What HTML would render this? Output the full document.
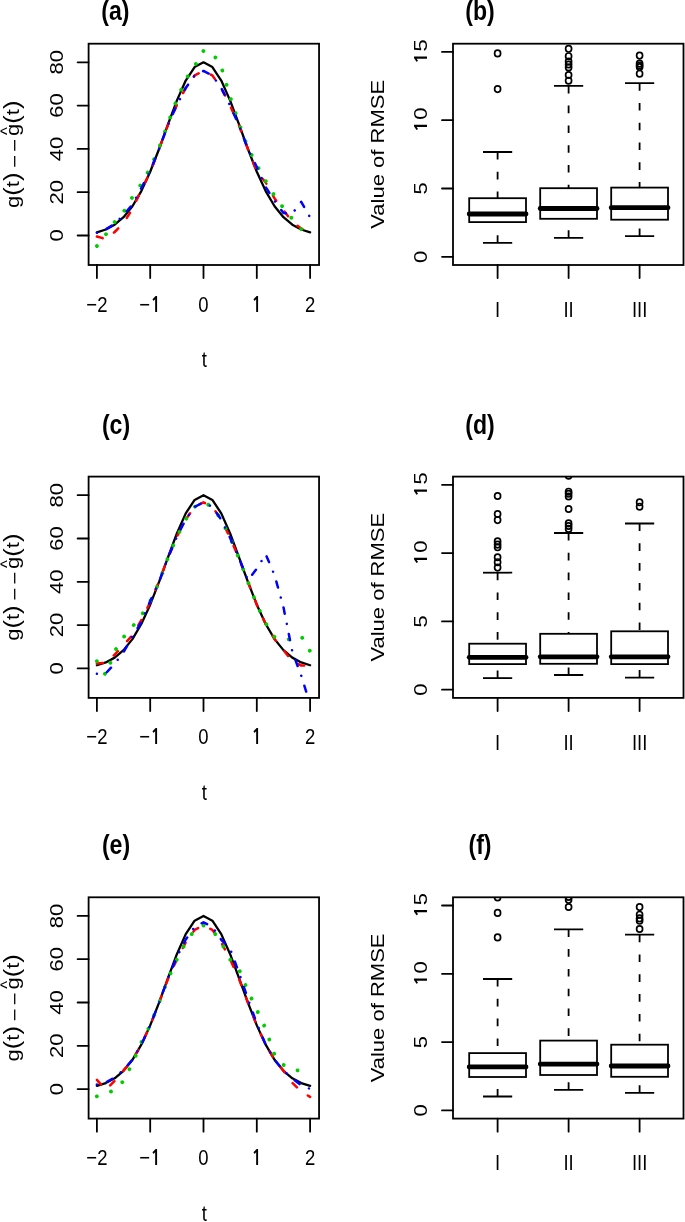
<!DOCTYPE html>
<html><head><meta charset="utf-8"><title>Figure</title>
<style>html,body{margin:0;padding:0;background:#fff;overflow:hidden}svg{display:block}</style>
</head><body>
<svg width="685" height="1222" viewBox="0 0 685 1222">
<rect width="685" height="1222" fill="#fff"/>
<defs>
<clipPath id="cl0"><rect x="88.6" y="43.7" width="230.45000000000002" height="221.3"/></clipPath>
<clipPath id="cb0"><rect x="453.0" y="43.7" width="230.5" height="221.3"/></clipPath>
<clipPath id="cl1"><rect x="88.6" y="476.59999999999997" width="230.45000000000002" height="221.3"/></clipPath>
<clipPath id="cb1"><rect x="453.0" y="476.59999999999997" width="230.5" height="221.3"/></clipPath>
<clipPath id="cl2"><rect x="88.6" y="897.3000000000001" width="230.45000000000002" height="221.3"/></clipPath>
<clipPath id="cb2"><rect x="453.0" y="897.3000000000001" width="230.5" height="221.3"/></clipPath>
</defs>
<g font-family="Liberation Sans, Arial, sans-serif" fill="#000">
<g stroke="#000" stroke-width="1.8" fill="none" stroke-linecap="square">
<rect x="88.6" y="43.7" width="230.45000000000002" height="221.3"/>
<line x1="96.90" y1="265.0" x2="96.90" y2="278.1" stroke-linecap="round"/>
<line x1="150.20" y1="265.0" x2="150.20" y2="278.1" stroke-linecap="round"/>
<line x1="203.50" y1="265.0" x2="203.50" y2="278.1" stroke-linecap="round"/>
<line x1="256.80" y1="265.0" x2="256.80" y2="278.1" stroke-linecap="round"/>
<line x1="310.10" y1="265.0" x2="310.10" y2="278.1" stroke-linecap="round"/>
<line x1="88.6" y1="235.50" x2="77.6" y2="235.50" stroke-linecap="round"/>
<line x1="88.6" y1="192.20" x2="77.6" y2="192.20" stroke-linecap="round"/>
<line x1="88.6" y1="148.90" x2="77.6" y2="148.90" stroke-linecap="round"/>
<line x1="88.6" y1="105.60" x2="77.6" y2="105.60" stroke-linecap="round"/>
<line x1="88.6" y1="62.30" x2="77.6" y2="62.30" stroke-linecap="round"/>
</g>
<text transform="translate(96.90,311.50) scale(1.0000,1.1900)" font-size="18.5" text-anchor="middle" font-weight="normal">−2</text>
<text transform="translate(150.20,311.50) scale(1.0000,1.1900)" font-size="18.5" text-anchor="middle" font-weight="normal">−<tspan font-family="NanumGothic, Liberation Sans, sans-serif" font-weight="bold" font-size="18">1</tspan></text>
<text transform="translate(203.50,311.50) scale(1.0000,1.1900)" font-size="18.5" text-anchor="middle" font-weight="normal">0</text>
<text transform="translate(256.80,311.50) scale(1.0000,1.1900)" font-size="18.5" text-anchor="middle" font-weight="normal"><tspan font-family="NanumGothic, Liberation Sans, sans-serif" font-weight="bold" font-size="18">1</tspan></text>
<text transform="translate(310.10,311.50) scale(1.0000,1.1900)" font-size="18.5" text-anchor="middle" font-weight="normal">2</text>
<text transform="translate(62.60,235.50) rotate(-90) scale(1.1900,1.0000)" font-size="18.5" text-anchor="middle" font-weight="normal">0</text>
<text transform="translate(62.60,192.20) rotate(-90) scale(1.1900,1.0000)" font-size="18.5" text-anchor="middle" font-weight="normal">20</text>
<text transform="translate(62.60,148.90) rotate(-90) scale(1.1900,1.0000)" font-size="18.5" text-anchor="middle" font-weight="normal">40</text>
<text transform="translate(62.60,105.60) rotate(-90) scale(1.1900,1.0000)" font-size="18.5" text-anchor="middle" font-weight="normal">60</text>
<text transform="translate(62.60,62.30) rotate(-90) scale(1.1900,1.0000)" font-size="18.5" text-anchor="middle" font-weight="normal">80</text>
<text transform="translate(204.30,367.40) scale(1.0000,1.1900)" font-size="18.5" text-anchor="middle" font-weight="normal">t</text>
<text transform="translate(19.3,207.90) rotate(-90) scale(1.19,1.0)" font-size="18.5" text-anchor="start">g<tspan font-size="21.5">(</tspan>t<tspan font-size="21.5">)</tspan></text>
<text transform="translate(21.3,167.70) rotate(-90) scale(1.19,1.0)" font-size="18.5" text-anchor="start">−</text>
<text transform="translate(21.3,151.70) rotate(-90) scale(1.19,1.0)" font-size="18.5" text-anchor="start">−</text>
<text transform="translate(19.3,136.00) rotate(-90) scale(1.19,1.0)" font-size="18.5" text-anchor="start">g<tspan font-size="21.5">(</tspan>t<tspan font-size="21.5">)</tspan></text>
<text transform="translate(13.2,131.20) rotate(-90) scale(0.9,1.0)" font-size="18.5" text-anchor="middle">^</text>
<text transform="translate(115.40,20.30) scale(1.0500,1.2300)" font-size="22" text-anchor="middle" font-weight="bold">(a)</text>
<g clip-path="url(#cl0)" fill="none" stroke-linejoin="round">
<polyline points="96.90,232.33 105.78,229.49 114.67,224.73 123.55,217.24 132.43,206.23 141.32,191.10 150.20,171.78 159.08,149.01 167.97,124.45 176.85,100.61 185.73,80.51 194.62,67.04 203.50,62.30 212.38,67.04 221.27,80.51 230.15,100.61 239.03,124.45 247.92,149.01 256.80,171.78 265.68,191.10 274.57,206.23 283.45,217.24 292.33,224.73 301.22,229.49 310.10,232.33" stroke="#000" stroke-width="2.3" stroke-linecap="round"/>
<polyline points="96.90,236.50 105.78,239.00 114.67,232.00 123.55,223.00 132.43,209.00 141.32,190.00 150.20,172.00 159.08,149.01 167.97,125.03 176.85,105.03 185.73,87.95 194.62,75.46 203.50,70.96 212.38,75.47 221.27,88.11 230.15,105.80 239.03,125.61 247.92,149.02 256.80,171.78 265.68,182.50 274.57,198.50 283.45,210.00 292.33,222.00 301.22,228.60 310.10,232.00" stroke="#f00" stroke-width="2.5" stroke-dasharray="6 13.6" stroke-linecap="round"/>
<polyline points="96.90,246.00 105.78,234.50 114.67,222.00 123.55,212.00 132.43,197.00 141.32,184.00 150.20,168.00 159.08,147.93 167.97,123.37 176.85,99.53 185.73,79.43 194.62,66.00 203.50,51.00 212.38,52.50 221.27,67.00 230.15,97.00 239.03,123.37 247.92,147.93 256.80,165.00 265.68,181.00 274.57,196.00 283.45,208.00 292.33,219.00 301.22,229.00 310.10,232.00" stroke="#00cd00" stroke-width="3.8" stroke-dasharray="0.01 14.9" stroke-linecap="round"/>
<polyline points="96.90,232.80 105.78,229.30 114.67,224.00 123.55,215.00 132.43,204.50 141.32,188.00 150.20,171.00 159.08,149.01 167.97,125.03 176.85,105.03 185.73,87.95 194.62,75.46 203.50,70.96 212.38,75.47 221.27,88.11 230.15,105.80 239.03,125.61 247.92,149.02 256.80,167.00 265.68,187.00 274.57,201.00 283.45,213.00 292.33,213.50 301.22,201.80 310.10,217.50" stroke="#00f" stroke-width="2.5" stroke-dasharray="0.01 10.4 6.2 10.4" stroke-linecap="round"/>
</g>
<g stroke="#000" stroke-width="1.8" fill="none">
<rect x="453.0" y="43.7" width="230.5" height="221.3" stroke-linecap="square"/>
<line x1="497.6" y1="265.0" x2="497.6" y2="278.1" stroke-linecap="round"/>
<line x1="568.6" y1="265.0" x2="568.6" y2="278.1" stroke-linecap="round"/>
<line x1="639.6" y1="265.0" x2="639.6" y2="278.1" stroke-linecap="round"/>
<line x1="453.0" y1="256.80" x2="442.0" y2="256.80" stroke-linecap="round"/>
<line x1="453.0" y1="188.50" x2="442.0" y2="188.50" stroke-linecap="round"/>
<line x1="453.0" y1="120.20" x2="442.0" y2="120.20" stroke-linecap="round"/>
<line x1="453.0" y1="51.90" x2="442.0" y2="51.90" stroke-linecap="round"/>
</g>
<text transform="translate(427.40,256.80) rotate(-90) scale(1.1900,1.0000)" font-size="18.5" text-anchor="middle" font-weight="normal">0</text>
<text transform="translate(427.40,188.50) rotate(-90) scale(1.1900,1.0000)" font-size="18.5" text-anchor="middle" font-weight="normal">5</text>
<text transform="translate(427.40,120.20) rotate(-90) scale(1.1900,1.0000)" font-size="18.5" text-anchor="middle" font-weight="normal"><tspan font-family="NanumGothic, Liberation Sans, sans-serif" font-weight="bold" font-size="18">1</tspan>0</text>
<text transform="translate(427.40,51.90) rotate(-90) scale(1.1900,1.0000)" font-size="18.5" text-anchor="middle" font-weight="normal"><tspan font-family="NanumGothic, Liberation Sans, sans-serif" font-weight="bold" font-size="18">1</tspan>5</text>
<text transform="translate(497.60,316.80) scale(1.0000,1.1900)" font-size="18.5" text-anchor="middle" font-weight="normal">I</text>
<text transform="translate(568.60,316.80) scale(1.0000,1.1900)" font-size="18.5" text-anchor="middle" font-weight="normal">II</text>
<text transform="translate(639.60,316.80) scale(1.0000,1.1900)" font-size="18.5" text-anchor="middle" font-weight="normal">III</text>
<text transform="translate(383.7,154.30) rotate(-90) scale(1.19,1.0)" font-size="18.5" text-anchor="middle">Value of RMSE</text>
<text transform="translate(480.00,20.30) scale(1.0500,1.2300)" font-size="22" text-anchor="middle" font-weight="bold">(b)</text>
<g clip-path="url(#cb0)" fill="none" stroke="#000" stroke-width="1.8">
<rect x="469.20" y="198.20" width="56.80" height="23.90"/>
<line x1="469.20" y1="214.00" x2="526.00" y2="214.00" stroke-width="4.8" stroke-linecap="round"/>
<line x1="483.00" y1="152.00" x2="512.20" y2="152.00"/>
<line x1="483.00" y1="242.90" x2="512.20" y2="242.90"/>
<line x1="497.6" y1="152.00" x2="497.6" y2="198.20" stroke-dasharray="7.6 12.2"/>
<line x1="497.6" y1="242.90" x2="497.6" y2="222.10" stroke-dasharray="7.6 12.2"/>
<ellipse cx="497.6" cy="53.40" rx="3.0" ry="3.2" stroke-width="1.7"/>
<ellipse cx="497.6" cy="89.10" rx="3.0" ry="3.2" stroke-width="1.7"/>
<rect x="540.20" y="188.20" width="56.80" height="30.60"/>
<line x1="540.20" y1="208.50" x2="597.00" y2="208.50" stroke-width="4.8" stroke-linecap="round"/>
<line x1="554.00" y1="85.80" x2="583.20" y2="85.80"/>
<line x1="554.00" y1="237.90" x2="583.20" y2="237.90"/>
<line x1="568.6" y1="85.80" x2="568.6" y2="188.20" stroke-dasharray="7.6 12.2"/>
<line x1="568.6" y1="237.90" x2="568.6" y2="218.80" stroke-dasharray="7.6 12.2"/>
<ellipse cx="568.6" cy="48.80" rx="3.0" ry="3.2" stroke-width="1.7"/>
<ellipse cx="568.6" cy="56.20" rx="3.0" ry="3.2" stroke-width="1.7"/>
<ellipse cx="568.6" cy="61.50" rx="3.0" ry="3.2" stroke-width="1.7"/>
<ellipse cx="568.6" cy="64.50" rx="3.0" ry="3.2" stroke-width="1.7"/>
<ellipse cx="568.6" cy="67.50" rx="3.0" ry="3.2" stroke-width="1.7"/>
<ellipse cx="568.6" cy="75.00" rx="3.0" ry="3.2" stroke-width="1.7"/>
<ellipse cx="568.6" cy="80.70" rx="3.0" ry="3.2" stroke-width="1.7"/>
<rect x="611.20" y="187.60" width="56.80" height="32.10"/>
<line x1="611.20" y1="207.70" x2="668.00" y2="207.70" stroke-width="4.8" stroke-linecap="round"/>
<line x1="625.00" y1="83.10" x2="654.20" y2="83.10"/>
<line x1="625.00" y1="236.20" x2="654.20" y2="236.20"/>
<line x1="639.6" y1="83.10" x2="639.6" y2="187.60" stroke-dasharray="7.6 12.2"/>
<line x1="639.6" y1="236.20" x2="639.6" y2="219.70" stroke-dasharray="7.6 12.2"/>
<ellipse cx="639.6" cy="55.60" rx="3.0" ry="3.2" stroke-width="1.7"/>
<ellipse cx="639.6" cy="63.60" rx="3.0" ry="3.2" stroke-width="1.7"/>
<ellipse cx="639.6" cy="65.50" rx="3.0" ry="3.2" stroke-width="1.7"/>
<ellipse cx="639.6" cy="67.10" rx="3.0" ry="3.2" stroke-width="1.7"/>
<ellipse cx="639.6" cy="73.70" rx="3.0" ry="3.2" stroke-width="1.7"/>
</g>
<g stroke="#000" stroke-width="1.8" fill="none" stroke-linecap="square">
<rect x="88.6" y="476.59999999999997" width="230.45000000000002" height="221.3"/>
<line x1="96.90" y1="697.9" x2="96.90" y2="711.0" stroke-linecap="round"/>
<line x1="150.20" y1="697.9" x2="150.20" y2="711.0" stroke-linecap="round"/>
<line x1="203.50" y1="697.9" x2="203.50" y2="711.0" stroke-linecap="round"/>
<line x1="256.80" y1="697.9" x2="256.80" y2="711.0" stroke-linecap="round"/>
<line x1="310.10" y1="697.9" x2="310.10" y2="711.0" stroke-linecap="round"/>
<line x1="88.6" y1="668.40" x2="77.6" y2="668.40" stroke-linecap="round"/>
<line x1="88.6" y1="625.10" x2="77.6" y2="625.10" stroke-linecap="round"/>
<line x1="88.6" y1="581.80" x2="77.6" y2="581.80" stroke-linecap="round"/>
<line x1="88.6" y1="538.50" x2="77.6" y2="538.50" stroke-linecap="round"/>
<line x1="88.6" y1="495.20" x2="77.6" y2="495.20" stroke-linecap="round"/>
</g>
<text transform="translate(96.90,744.40) scale(1.0000,1.1900)" font-size="18.5" text-anchor="middle" font-weight="normal">−2</text>
<text transform="translate(150.20,744.40) scale(1.0000,1.1900)" font-size="18.5" text-anchor="middle" font-weight="normal">−<tspan font-family="NanumGothic, Liberation Sans, sans-serif" font-weight="bold" font-size="18">1</tspan></text>
<text transform="translate(203.50,744.40) scale(1.0000,1.1900)" font-size="18.5" text-anchor="middle" font-weight="normal">0</text>
<text transform="translate(256.80,744.40) scale(1.0000,1.1900)" font-size="18.5" text-anchor="middle" font-weight="normal"><tspan font-family="NanumGothic, Liberation Sans, sans-serif" font-weight="bold" font-size="18">1</tspan></text>
<text transform="translate(310.10,744.40) scale(1.0000,1.1900)" font-size="18.5" text-anchor="middle" font-weight="normal">2</text>
<text transform="translate(62.60,668.40) rotate(-90) scale(1.1900,1.0000)" font-size="18.5" text-anchor="middle" font-weight="normal">0</text>
<text transform="translate(62.60,625.10) rotate(-90) scale(1.1900,1.0000)" font-size="18.5" text-anchor="middle" font-weight="normal">20</text>
<text transform="translate(62.60,581.80) rotate(-90) scale(1.1900,1.0000)" font-size="18.5" text-anchor="middle" font-weight="normal">40</text>
<text transform="translate(62.60,538.50) rotate(-90) scale(1.1900,1.0000)" font-size="18.5" text-anchor="middle" font-weight="normal">60</text>
<text transform="translate(62.60,495.20) rotate(-90) scale(1.1900,1.0000)" font-size="18.5" text-anchor="middle" font-weight="normal">80</text>
<text transform="translate(204.30,800.30) scale(1.0000,1.1900)" font-size="18.5" text-anchor="middle" font-weight="normal">t</text>
<text transform="translate(19.3,640.80) rotate(-90) scale(1.19,1.0)" font-size="18.5" text-anchor="start">g<tspan font-size="21.5">(</tspan>t<tspan font-size="21.5">)</tspan></text>
<text transform="translate(21.3,600.60) rotate(-90) scale(1.19,1.0)" font-size="18.5" text-anchor="start">−</text>
<text transform="translate(21.3,584.60) rotate(-90) scale(1.19,1.0)" font-size="18.5" text-anchor="start">−</text>
<text transform="translate(19.3,568.90) rotate(-90) scale(1.19,1.0)" font-size="18.5" text-anchor="start">g<tspan font-size="21.5">(</tspan>t<tspan font-size="21.5">)</tspan></text>
<text transform="translate(13.2,564.10) rotate(-90) scale(0.9,1.0)" font-size="18.5" text-anchor="middle">^</text>
<text transform="translate(116.00,433.90) scale(1.0500,1.2300)" font-size="22" text-anchor="middle" font-weight="bold">(c)</text>
<g clip-path="url(#cl1)" fill="none" stroke-linejoin="round">
<polyline points="96.90,665.23 105.78,662.39 114.67,657.63 123.55,650.14 132.43,639.13 141.32,624.00 150.20,604.68 159.08,581.91 167.97,557.35 176.85,533.51 185.73,513.41 194.62,499.94 203.50,495.20 212.38,499.94 221.27,513.41 230.15,533.51 239.03,557.35 247.92,581.91 256.80,604.68 265.68,624.00 274.57,639.13 283.45,650.14 292.33,657.63 301.22,662.39 310.10,665.23" stroke="#000" stroke-width="2.3" stroke-linecap="round"/>
<polyline points="96.90,663.60 105.78,662.60 114.67,654.70 123.55,645.20 132.43,635.20 141.32,620.20 150.20,602.20 159.08,581.20 167.97,557.74 176.85,536.95 185.73,519.46 194.62,506.84 203.50,502.30 212.38,506.85 221.27,519.66 230.15,537.90 239.03,558.44 247.92,581.92 256.80,604.68 265.68,624.00 274.57,639.13 283.45,650.14 292.33,661.20 301.22,665.50 310.10,665.50" stroke="#f00" stroke-width="2.5" stroke-dasharray="6 13.6" stroke-linecap="round"/>
<polyline points="96.90,661.20 105.78,675.20 114.67,651.20 123.55,637.20 132.43,626.70 141.32,615.70 150.20,601.20 159.08,582.20 167.97,557.74 176.85,536.95 185.73,519.46 194.62,506.84 203.50,502.30 212.38,506.85 221.27,519.66 230.15,537.90 239.03,558.44 247.92,581.92 256.80,604.68 265.68,623.20 274.57,637.20 283.45,639.70 292.33,639.20 301.22,636.20 310.10,651.20" stroke="#00cd00" stroke-width="3.8" stroke-dasharray="0.01 14.9" stroke-linecap="round"/>
<polyline points="96.90,673.70 105.78,673.40 114.67,663.70 123.55,652.20 132.43,636.20 141.32,622.20 150.20,601.20 159.08,581.91 167.97,557.74 176.85,536.95 185.73,519.46 194.62,506.84 203.50,502.30 212.38,506.85 221.27,519.66 230.15,537.90 239.03,558.44 247.92,580.20 256.80,568.70 265.68,554.20 274.57,575.20 283.45,607.20 292.33,651.70 301.22,675.70 310.10,704.20" stroke="#00f" stroke-width="2.5" stroke-dasharray="0.01 10.4 6.2 10.4" stroke-linecap="round"/>
</g>
<g stroke="#000" stroke-width="1.8" fill="none">
<rect x="453.0" y="476.59999999999997" width="230.5" height="221.3" stroke-linecap="square"/>
<line x1="497.6" y1="697.9" x2="497.6" y2="711.0" stroke-linecap="round"/>
<line x1="568.6" y1="697.9" x2="568.6" y2="711.0" stroke-linecap="round"/>
<line x1="639.6" y1="697.9" x2="639.6" y2="711.0" stroke-linecap="round"/>
<line x1="453.0" y1="689.70" x2="442.0" y2="689.70" stroke-linecap="round"/>
<line x1="453.0" y1="621.40" x2="442.0" y2="621.40" stroke-linecap="round"/>
<line x1="453.0" y1="553.10" x2="442.0" y2="553.10" stroke-linecap="round"/>
<line x1="453.0" y1="484.80" x2="442.0" y2="484.80" stroke-linecap="round"/>
</g>
<text transform="translate(427.40,689.70) rotate(-90) scale(1.1900,1.0000)" font-size="18.5" text-anchor="middle" font-weight="normal">0</text>
<text transform="translate(427.40,621.40) rotate(-90) scale(1.1900,1.0000)" font-size="18.5" text-anchor="middle" font-weight="normal">5</text>
<text transform="translate(427.40,553.10) rotate(-90) scale(1.1900,1.0000)" font-size="18.5" text-anchor="middle" font-weight="normal"><tspan font-family="NanumGothic, Liberation Sans, sans-serif" font-weight="bold" font-size="18">1</tspan>0</text>
<text transform="translate(427.40,484.80) rotate(-90) scale(1.1900,1.0000)" font-size="18.5" text-anchor="middle" font-weight="normal"><tspan font-family="NanumGothic, Liberation Sans, sans-serif" font-weight="bold" font-size="18">1</tspan>5</text>
<text transform="translate(497.60,749.70) scale(1.0000,1.1900)" font-size="18.5" text-anchor="middle" font-weight="normal">I</text>
<text transform="translate(568.60,749.70) scale(1.0000,1.1900)" font-size="18.5" text-anchor="middle" font-weight="normal">II</text>
<text transform="translate(639.60,749.70) scale(1.0000,1.1900)" font-size="18.5" text-anchor="middle" font-weight="normal">III</text>
<text transform="translate(383.7,587.20) rotate(-90) scale(1.19,1.0)" font-size="18.5" text-anchor="middle">Value of RMSE</text>
<text transform="translate(480.00,433.90) scale(1.0500,1.2300)" font-size="22" text-anchor="middle" font-weight="bold">(d)</text>
<g clip-path="url(#cb1)" fill="none" stroke="#000" stroke-width="1.8">
<rect x="469.20" y="643.70" width="56.80" height="20.40"/>
<line x1="469.20" y1="657.30" x2="526.00" y2="657.30" stroke-width="4.8" stroke-linecap="round"/>
<line x1="483.00" y1="572.70" x2="512.20" y2="572.70"/>
<line x1="483.00" y1="678.10" x2="512.20" y2="678.10"/>
<line x1="497.6" y1="572.70" x2="497.6" y2="643.70" stroke-dasharray="7.6 12.2"/>
<line x1="497.6" y1="678.10" x2="497.6" y2="664.10" stroke-dasharray="7.6 12.2"/>
<ellipse cx="497.6" cy="496.00" rx="3.0" ry="3.2" stroke-width="1.7"/>
<ellipse cx="497.6" cy="514.00" rx="3.0" ry="3.2" stroke-width="1.7"/>
<ellipse cx="497.6" cy="520.10" rx="3.0" ry="3.2" stroke-width="1.7"/>
<ellipse cx="497.6" cy="541.40" rx="3.0" ry="3.2" stroke-width="1.7"/>
<ellipse cx="497.6" cy="544.60" rx="3.0" ry="3.2" stroke-width="1.7"/>
<ellipse cx="497.6" cy="547.30" rx="3.0" ry="3.2" stroke-width="1.7"/>
<ellipse cx="497.6" cy="557.30" rx="3.0" ry="3.2" stroke-width="1.7"/>
<ellipse cx="497.6" cy="562.20" rx="3.0" ry="3.2" stroke-width="1.7"/>
<ellipse cx="497.6" cy="567.60" rx="3.0" ry="3.2" stroke-width="1.7"/>
<rect x="540.20" y="633.80" width="56.80" height="30.00"/>
<line x1="540.20" y1="656.80" x2="597.00" y2="656.80" stroke-width="4.8" stroke-linecap="round"/>
<line x1="554.00" y1="533.00" x2="583.20" y2="533.00"/>
<line x1="554.00" y1="675.00" x2="583.20" y2="675.00"/>
<line x1="568.6" y1="533.00" x2="568.6" y2="633.80" stroke-dasharray="7.6 12.2"/>
<line x1="568.6" y1="675.00" x2="568.6" y2="663.80" stroke-dasharray="7.6 12.2"/>
<ellipse cx="568.6" cy="475.70" rx="3.0" ry="3.2" stroke-width="1.7"/>
<ellipse cx="568.6" cy="491.70" rx="3.0" ry="3.2" stroke-width="1.7"/>
<ellipse cx="568.6" cy="493.80" rx="3.0" ry="3.2" stroke-width="1.7"/>
<ellipse cx="568.6" cy="496.50" rx="3.0" ry="3.2" stroke-width="1.7"/>
<ellipse cx="568.6" cy="509.00" rx="3.0" ry="3.2" stroke-width="1.7"/>
<ellipse cx="568.6" cy="523.40" rx="3.0" ry="3.2" stroke-width="1.7"/>
<ellipse cx="568.6" cy="526.00" rx="3.0" ry="3.2" stroke-width="1.7"/>
<ellipse cx="568.6" cy="528.90" rx="3.0" ry="3.2" stroke-width="1.7"/>
<rect x="611.20" y="631.30" width="56.80" height="32.80"/>
<line x1="611.20" y1="656.80" x2="668.00" y2="656.80" stroke-width="4.8" stroke-linecap="round"/>
<line x1="625.00" y1="523.50" x2="654.20" y2="523.50"/>
<line x1="625.00" y1="677.60" x2="654.20" y2="677.60"/>
<line x1="639.6" y1="523.50" x2="639.6" y2="631.30" stroke-dasharray="7.6 12.2"/>
<line x1="639.6" y1="677.60" x2="639.6" y2="664.10" stroke-dasharray="7.6 12.2"/>
<ellipse cx="639.6" cy="502.30" rx="3.0" ry="3.2" stroke-width="1.7"/>
<ellipse cx="639.6" cy="506.70" rx="3.0" ry="3.2" stroke-width="1.7"/>
</g>
<g stroke="#000" stroke-width="1.8" fill="none" stroke-linecap="square">
<rect x="88.6" y="897.3000000000001" width="230.45000000000002" height="221.3"/>
<line x1="96.90" y1="1118.6" x2="96.90" y2="1131.6999999999998" stroke-linecap="round"/>
<line x1="150.20" y1="1118.6" x2="150.20" y2="1131.6999999999998" stroke-linecap="round"/>
<line x1="203.50" y1="1118.6" x2="203.50" y2="1131.6999999999998" stroke-linecap="round"/>
<line x1="256.80" y1="1118.6" x2="256.80" y2="1131.6999999999998" stroke-linecap="round"/>
<line x1="310.10" y1="1118.6" x2="310.10" y2="1131.6999999999998" stroke-linecap="round"/>
<line x1="88.6" y1="1089.10" x2="77.6" y2="1089.10" stroke-linecap="round"/>
<line x1="88.6" y1="1045.80" x2="77.6" y2="1045.80" stroke-linecap="round"/>
<line x1="88.6" y1="1002.50" x2="77.6" y2="1002.50" stroke-linecap="round"/>
<line x1="88.6" y1="959.20" x2="77.6" y2="959.20" stroke-linecap="round"/>
<line x1="88.6" y1="915.90" x2="77.6" y2="915.90" stroke-linecap="round"/>
</g>
<text transform="translate(96.90,1165.10) scale(1.0000,1.1900)" font-size="18.5" text-anchor="middle" font-weight="normal">−2</text>
<text transform="translate(150.20,1165.10) scale(1.0000,1.1900)" font-size="18.5" text-anchor="middle" font-weight="normal">−<tspan font-family="NanumGothic, Liberation Sans, sans-serif" font-weight="bold" font-size="18">1</tspan></text>
<text transform="translate(203.50,1165.10) scale(1.0000,1.1900)" font-size="18.5" text-anchor="middle" font-weight="normal">0</text>
<text transform="translate(256.80,1165.10) scale(1.0000,1.1900)" font-size="18.5" text-anchor="middle" font-weight="normal"><tspan font-family="NanumGothic, Liberation Sans, sans-serif" font-weight="bold" font-size="18">1</tspan></text>
<text transform="translate(310.10,1165.10) scale(1.0000,1.1900)" font-size="18.5" text-anchor="middle" font-weight="normal">2</text>
<text transform="translate(62.60,1089.10) rotate(-90) scale(1.1900,1.0000)" font-size="18.5" text-anchor="middle" font-weight="normal">0</text>
<text transform="translate(62.60,1045.80) rotate(-90) scale(1.1900,1.0000)" font-size="18.5" text-anchor="middle" font-weight="normal">20</text>
<text transform="translate(62.60,1002.50) rotate(-90) scale(1.1900,1.0000)" font-size="18.5" text-anchor="middle" font-weight="normal">40</text>
<text transform="translate(62.60,959.20) rotate(-90) scale(1.1900,1.0000)" font-size="18.5" text-anchor="middle" font-weight="normal">60</text>
<text transform="translate(62.60,915.90) rotate(-90) scale(1.1900,1.0000)" font-size="18.5" text-anchor="middle" font-weight="normal">80</text>
<text transform="translate(204.30,1221.00) scale(1.0000,1.1900)" font-size="18.5" text-anchor="middle" font-weight="normal">t</text>
<text transform="translate(19.3,1061.50) rotate(-90) scale(1.19,1.0)" font-size="18.5" text-anchor="start">g<tspan font-size="21.5">(</tspan>t<tspan font-size="21.5">)</tspan></text>
<text transform="translate(21.3,1021.30) rotate(-90) scale(1.19,1.0)" font-size="18.5" text-anchor="start">−</text>
<text transform="translate(21.3,1005.30) rotate(-90) scale(1.19,1.0)" font-size="18.5" text-anchor="start">−</text>
<text transform="translate(19.3,989.60) rotate(-90) scale(1.19,1.0)" font-size="18.5" text-anchor="start">g<tspan font-size="21.5">(</tspan>t<tspan font-size="21.5">)</tspan></text>
<text transform="translate(13.2,984.80) rotate(-90) scale(0.9,1.0)" font-size="18.5" text-anchor="middle">^</text>
<text transform="translate(116.00,854.40) scale(1.0500,1.2300)" font-size="22" text-anchor="middle" font-weight="bold">(e)</text>
<g clip-path="url(#cl2)" fill="none" stroke-linejoin="round">
<polyline points="96.90,1085.93 105.78,1083.09 114.67,1078.33 123.55,1070.84 132.43,1059.83 141.32,1044.70 150.20,1025.38 159.08,1002.61 167.97,978.05 176.85,954.21 185.73,934.11 194.62,920.64 203.50,915.90 212.38,920.64 221.27,934.11 230.15,954.21 239.03,978.05 247.92,1002.61 256.80,1025.38 265.68,1044.70 274.57,1059.83 283.45,1070.84 292.33,1078.33 301.22,1083.09 310.10,1085.93" stroke="#000" stroke-width="2.3" stroke-linecap="round"/>
<polyline points="96.90,1079.90 105.78,1089.90 114.67,1080.90 123.55,1070.40 132.43,1059.83 141.32,1044.70 150.20,1025.38 159.08,1002.62 167.97,978.98 176.85,959.52 185.73,942.39 194.62,929.91 203.50,925.43 212.38,929.91 221.27,942.39 230.15,959.52 239.03,978.98 247.92,1002.62 256.80,1025.38 265.68,1044.70 274.57,1059.83 283.45,1070.84 292.33,1082.90 301.22,1091.40 310.10,1096.90" stroke="#f00" stroke-width="2.5" stroke-dasharray="6 13.6" stroke-linecap="round"/>
<polyline points="96.90,1096.40 105.78,1093.90 114.67,1089.90 123.55,1080.90 132.43,1063.40 141.32,1042.40 150.20,1025.38 159.08,1002.62 167.97,978.99 176.85,959.62 185.73,942.54 194.62,930.07 203.50,925.60 212.38,930.07 221.27,942.54 230.15,959.62 239.03,969.40 247.92,990.80 256.80,1009.90 265.68,1028.90 274.57,1054.90 283.45,1064.90 292.33,1068.90 301.22,1071.40 310.10,1073.40" stroke="#00cd00" stroke-width="3.8" stroke-dasharray="0.01 14.9" stroke-linecap="round"/>
<polyline points="96.90,1084.40 105.78,1082.40 114.67,1077.40 123.55,1069.90 132.43,1059.83 141.32,1044.70 150.20,1025.38 159.08,1002.61 167.97,978.27 176.85,956.97 185.73,939.47 194.62,926.86 203.50,922.31 212.38,926.88 221.27,939.79 230.15,948.90 239.03,972.90 247.92,998.90 256.80,1023.40 265.68,1044.70 274.57,1059.83 283.45,1070.84 292.33,1078.33 301.22,1085.40 310.10,1088.90" stroke="#00f" stroke-width="2.5" stroke-dasharray="0.01 10.4 6.2 10.4" stroke-linecap="round"/>
</g>
<g stroke="#000" stroke-width="1.8" fill="none">
<rect x="453.0" y="897.3000000000001" width="230.5" height="221.3" stroke-linecap="square"/>
<line x1="497.6" y1="1118.6" x2="497.6" y2="1131.6999999999998" stroke-linecap="round"/>
<line x1="568.6" y1="1118.6" x2="568.6" y2="1131.6999999999998" stroke-linecap="round"/>
<line x1="639.6" y1="1118.6" x2="639.6" y2="1131.6999999999998" stroke-linecap="round"/>
<line x1="453.0" y1="1110.40" x2="442.0" y2="1110.40" stroke-linecap="round"/>
<line x1="453.0" y1="1042.10" x2="442.0" y2="1042.10" stroke-linecap="round"/>
<line x1="453.0" y1="973.80" x2="442.0" y2="973.80" stroke-linecap="round"/>
<line x1="453.0" y1="905.50" x2="442.0" y2="905.50" stroke-linecap="round"/>
</g>
<text transform="translate(427.40,1110.40) rotate(-90) scale(1.1900,1.0000)" font-size="18.5" text-anchor="middle" font-weight="normal">0</text>
<text transform="translate(427.40,1042.10) rotate(-90) scale(1.1900,1.0000)" font-size="18.5" text-anchor="middle" font-weight="normal">5</text>
<text transform="translate(427.40,973.80) rotate(-90) scale(1.1900,1.0000)" font-size="18.5" text-anchor="middle" font-weight="normal"><tspan font-family="NanumGothic, Liberation Sans, sans-serif" font-weight="bold" font-size="18">1</tspan>0</text>
<text transform="translate(427.40,905.50) rotate(-90) scale(1.1900,1.0000)" font-size="18.5" text-anchor="middle" font-weight="normal"><tspan font-family="NanumGothic, Liberation Sans, sans-serif" font-weight="bold" font-size="18">1</tspan>5</text>
<text transform="translate(497.60,1170.40) scale(1.0000,1.1900)" font-size="18.5" text-anchor="middle" font-weight="normal">I</text>
<text transform="translate(568.60,1170.40) scale(1.0000,1.1900)" font-size="18.5" text-anchor="middle" font-weight="normal">II</text>
<text transform="translate(639.60,1170.40) scale(1.0000,1.1900)" font-size="18.5" text-anchor="middle" font-weight="normal">III</text>
<text transform="translate(383.7,1007.90) rotate(-90) scale(1.19,1.0)" font-size="18.5" text-anchor="middle">Value of RMSE</text>
<text transform="translate(480.00,854.40) scale(1.0500,1.2300)" font-size="22" text-anchor="middle" font-weight="bold">(f)</text>
<g clip-path="url(#cb2)" fill="none" stroke="#000" stroke-width="1.8">
<rect x="469.20" y="1053.10" width="56.80" height="23.90"/>
<line x1="469.20" y1="1066.90" x2="526.00" y2="1066.90" stroke-width="4.8" stroke-linecap="round"/>
<line x1="483.00" y1="979.00" x2="512.20" y2="979.00"/>
<line x1="483.00" y1="1096.50" x2="512.20" y2="1096.50"/>
<line x1="497.6" y1="979.00" x2="497.6" y2="1053.10" stroke-dasharray="7.6 12.2"/>
<line x1="497.6" y1="1096.50" x2="497.6" y2="1077.00" stroke-dasharray="7.6 12.2"/>
<ellipse cx="497.6" cy="897.40" rx="3.0" ry="3.2" stroke-width="1.7"/>
<ellipse cx="497.6" cy="912.90" rx="3.0" ry="3.2" stroke-width="1.7"/>
<ellipse cx="497.6" cy="937.40" rx="3.0" ry="3.2" stroke-width="1.7"/>
<rect x="540.20" y="1040.60" width="56.80" height="34.40"/>
<line x1="540.20" y1="1064.10" x2="597.00" y2="1064.10" stroke-width="4.8" stroke-linecap="round"/>
<line x1="554.00" y1="929.30" x2="583.20" y2="929.30"/>
<line x1="554.00" y1="1089.90" x2="583.20" y2="1089.90"/>
<line x1="568.6" y1="929.30" x2="568.6" y2="1040.60" stroke-dasharray="7.6 12.2"/>
<line x1="568.6" y1="1089.90" x2="568.6" y2="1075.00" stroke-dasharray="7.6 12.2"/>
<ellipse cx="568.6" cy="896.90" rx="3.0" ry="3.2" stroke-width="1.7"/>
<ellipse cx="568.6" cy="899.80" rx="3.0" ry="3.2" stroke-width="1.7"/>
<ellipse cx="568.6" cy="907.00" rx="3.0" ry="3.2" stroke-width="1.7"/>
<rect x="611.20" y="1044.70" width="56.80" height="32.10"/>
<line x1="611.20" y1="1066.00" x2="668.00" y2="1066.00" stroke-width="4.8" stroke-linecap="round"/>
<line x1="625.00" y1="934.70" x2="654.20" y2="934.70"/>
<line x1="625.00" y1="1092.90" x2="654.20" y2="1092.90"/>
<line x1="639.6" y1="934.70" x2="639.6" y2="1044.70" stroke-dasharray="7.6 12.2"/>
<line x1="639.6" y1="1092.90" x2="639.6" y2="1076.80" stroke-dasharray="7.6 12.2"/>
<ellipse cx="639.6" cy="907.10" rx="3.0" ry="3.2" stroke-width="1.7"/>
<ellipse cx="639.6" cy="914.70" rx="3.0" ry="3.2" stroke-width="1.7"/>
<ellipse cx="639.6" cy="918.40" rx="3.0" ry="3.2" stroke-width="1.7"/>
<ellipse cx="639.6" cy="920.80" rx="3.0" ry="3.2" stroke-width="1.7"/>
<ellipse cx="639.6" cy="929.00" rx="3.0" ry="3.2" stroke-width="1.7"/>
</g>
</g></svg>
</body></html>
